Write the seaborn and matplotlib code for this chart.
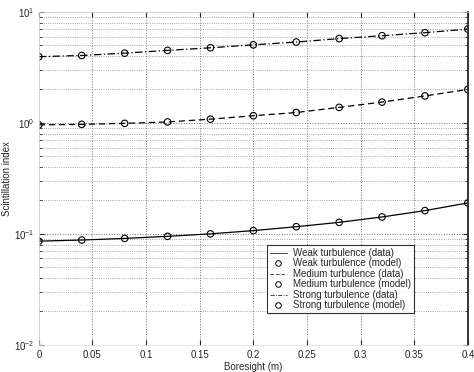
import matplotlib
matplotlib.use("Agg")
import matplotlib.pyplot as plt
import numpy as np
import pandas as pd
import seaborn as sns
from matplotlib.lines import Line2D

boresight = [0.0, 0.04, 0.08, 0.12, 0.16, 0.2, 0.24, 0.28, 0.32, 0.36, 0.4]
weak_si = [0.086, 0.088, 0.091, 0.095, 0.100, 0.107, 0.116, 0.127, 0.142, 0.162, 0.190]
medium_si = [0.96, 0.97, 0.99, 1.02, 1.08, 1.16, 1.24, 1.38, 1.54, 1.75, 2.00]
strong_si = [3.95, 4.05, 4.25, 4.5, 4.75, 5.05, 5.35, 5.75, 6.1, 6.5, 7.0]

series_names = ["Weak turbulence", "Medium turbulence", "Strong turbulence"]
series_styles = ["-", (0, (5, 3)), (0, (6, 2, 1, 2))]

df = pd.DataFrame({
    "boresight": boresight * 3,
    "si": weak_si + medium_si + strong_si,
    "turbulence": np.repeat(series_names, len(boresight)),
})

sns.set_style("ticks")
plt.rcParams["font.family"] = ["Liberation Sans", "DejaVu Sans"]
plt.rcParams["font.size"] = 7
plt.rcParams["mathtext.fontset"] = "custom"
plt.rcParams["mathtext.rm"] = "Liberation Sans"

fig = plt.figure(figsize=(4.74, 3.72), dpi=100)
ax = fig.add_axes([0.082, 0.073, 0.905, 0.895])

handles = []
for name, ls in zip(series_names, series_styles):
    sub = df[df["turbulence"] == name]
    sns.lineplot(data=sub, x="boresight", y="si", ax=ax, color="black",
                 linestyle=ls, linewidth=0.9, legend=False)
    sns.scatterplot(data=sub, x="boresight", y="si", ax=ax, marker="o",
                    facecolor="none", edgecolor="black", linewidth=0.8,
                    s=22, legend=False)
    handles.append(Line2D([], [], color="black", linestyle=ls, linewidth=0.5,
                          label=f"{name} (data)"))
    handles.append(Line2D([], [], color="black", linestyle="none", marker="o",
                          markerfacecolor="none", markersize=4, markeredgewidth=0.7,
                          label=f"{name} (model)"))

ax.set_yscale("log")
ax.set_ylim(1e-2, 1e1)
ax.set_xlim(0, 0.4)
ax.set_xticks(np.arange(0, 0.41, 0.05))
ax.set_xticklabels(["0", "0.05", "0.1", "0.15", "0.2", "0.25", "0.3", "0.35", "0.4"])
ax.grid(True, which="major", linestyle=":", color="0.45", linewidth=0.7)
ax.grid(True, which="minor", axis="y", linestyle=":", color="0.55", linewidth=0.6)
ax.tick_params(which="both", direction="in", top=True, right=True, labelsize=7)
for side in ["left", "top", "bottom"]:
    ax.spines[side].set_color("0.85")
    ax.spines[side].set_linewidth(0.5)
ax.spines["right"].set_linewidth(1.3)

ax.set_xlabel("Boresight (m)", fontsize=7, labelpad=2)
ax.set_ylabel("Scintillation index", fontsize=7, labelpad=1)

leg = ax.legend(handles=handles, loc="lower left", bbox_to_anchor=(0.52, 0.08),
                fontsize=7, frameon=True, fancybox=False, edgecolor="black",
                handlelength=1.8, borderpad=0.3, labelspacing=0.05,
                handletextpad=0.6)
leg.get_frame().set_linewidth(0.8)

fig.savefig("out.png", dpi=100)
